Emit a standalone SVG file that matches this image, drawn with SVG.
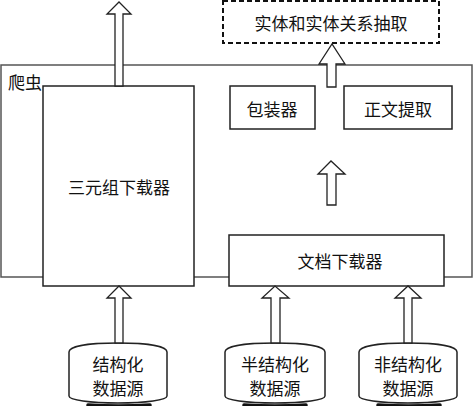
<svg xmlns="http://www.w3.org/2000/svg" width="474" height="406" viewBox="0 0 474 406">
<style>
.box{fill:#fff;stroke:#222;stroke-width:1.5}
.frame{fill:none;stroke:#555;stroke-width:1.5}
.dash{fill:#fff;stroke:#111;stroke-width:2;stroke-dasharray:5 3}
.arr{fill:#fff;stroke:#222;stroke-width:1.3;stroke-linejoin:miter}
.shadow{fill:none;stroke:#111;stroke-width:3.5;stroke-linecap:round}
text{font-family:"Noto Sans CJK SC","Noto Sans",sans-serif;font-size:17px;fill:#111;text-anchor:middle;dominant-baseline:central}
</style>
<g id="crawler">
<rect class="frame" x="1" y="65" width="471" height="212"/>
<text x="25" y="81">爬虫</text>
</g>
<g id="extract">
<rect class="dash" x="223" y="1" width="216" height="42"/>
<text x="331" y="22">实体和实体关系抽取</text>
</g>
<g id="triple">
<rect class="box" x="43" y="86" width="151" height="200"/>
<text x="119" y="186">三元组下载器</text>
</g>
<g id="wrapper">
<rect class="box" x="230" y="86" width="85" height="43"/>
<text x="272" y="108">包装器</text>
</g>
<g id="body">
<rect class="box" x="344" y="86" width="108" height="43"/>
<text x="398" y="108">正文提取</text>
</g>
<g id="docdl">
<rect class="box" x="229" y="235" width="215" height="51"/>
<text x="340" y="260">文档下载器</text>
</g>
<g id="src1">
<path class="box" d="M69,352 C69,346 90,343 118,343 C146,343 167,346 167,352 L167,396 C167,400 146,403 118,403 C90,403 69,400 69,396 Z"/>
<path class="shadow" d="M88,405 Q118,407 150,405"/>
<text x="118" y="363">结构化</text>
<text x="118" y="387">数据源</text>
</g>
<g id="src2">
<path class="box" d="M225,352 C225,346 246,343 275,343 C304,343 325,346 325,352 L325,396 C325,400 304,403 275,403 C246,403 225,400 225,396 Z"/>
<path class="shadow" d="M244,405 Q275,407 306,405"/>
<text x="275" y="363">半结构化</text>
<text x="275" y="387">数据源</text>
</g>
<g id="src3">
<path class="box" d="M359,352 C359,346 380,343 408,343 C436,343 457,346 457,352 L457,396 C457,400 436,403 408,403 C380,403 359,400 359,396 Z"/>
<path class="shadow" d="M378,405 Q408,407 440,405"/>
<text x="408" y="363">非结构化</text>
<text x="408" y="387">数据源</text>
</g>
<g id="connectors">
<polygon class="arr" points="115,86 115,14 107,14 119,2 131,14 123,14 123,86"/>
<polygon class="arr" points="327,87 327,64 319,64 332,44 345,64 336,64 336,87"/>
<polygon class="arr" points="327,205 327,174 318,174 331,161 345,174 336,174 336,205"/>
<polygon class="arr" points="115,343 115,298 107,298 119,286 131,298 123,298 123,343"/>
<polygon class="arr" points="271,343 271,298 262,298 275,286 289,298 280,298 280,343"/>
<polygon class="arr" points="404,343 404,298 395,298 408,286 421,298 412,298 412,343"/>
</g>
</svg>
